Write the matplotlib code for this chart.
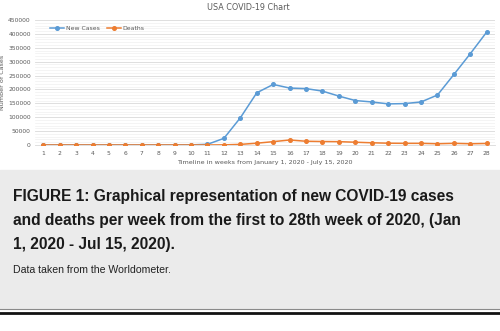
import numpy as np
import matplotlib
matplotlib.use("Agg")
import matplotlib.pyplot as plt
from matplotlib.ticker import MultipleLocator

weeks = list(range(1, 29))
new_cases = [0, 0, 0, 0, 0, 0, 0, 0, 0, 500, 2500, 24000, 98000, 188000,
             218000, 205000, 203000, 194000, 176000, 160000, 155000, 148000,
             149000, 155000, 180000, 254000, 329000, 407000]
deaths = [0, 0, 0, 0, 0, 0, 0, 0, 0, 0, 50, 500, 2200, 6500, 12000, 18000,
          13500, 12500, 12000, 10000, 8000, 6500, 6000, 6000, 4500, 6000,
          4500, 5500]

chart_title = "USA COVID-19 Chart"
x_label = "Timeline in weeks from January 1, 2020 - July 15, 2020"
y_label = "Number of Cases"
caption = ("FIGURE 1: Graphical representation of new COVID-19 cases\n"
           "and deaths per week from the first to 28th week of 2020, (Jan\n"
           "1, 2020 - Jul 15, 2020).")
note = "Data taken from the Worldometer."

W, H = 500, 331
fig = plt.figure(figsize=(W / 100, H / 100), dpi=100)
fig.patch.set_facecolor("white")

# grey caption panel + rules under it
fig.patches.append(plt.Rectangle((0, (H - 308) / H), 1, (308 - 170) / H,
                                 transform=fig.transFigure, color="#ebebeb", zorder=0))
fig.add_artist(plt.Line2D([0, 1], [(H - 309) / H] * 2, color="#8a8a8a", lw=0.8))
fig.add_artist(plt.Line2D([0, 1], [(H - 313) / H] * 2, color="#111111", lw=2.0))

ax = fig.add_axes([35 / W, (H - 145) / H, 460 / W, 125 / H])
ax.set_facecolor("white")

blue = "#5b9bd5"
orange = "#ed7d31"
ax.plot(weeks, new_cases, color=blue, lw=1.1, marker="o", ms=2.6, label="New Cases", zorder=3)
ax.plot(weeks, deaths, color=orange, lw=1.1, marker="o", ms=2.6, label="Deaths", zorder=3)

ax.set_xlim(0.5, 28.5)
ax.set_ylim(0, 450000)
ax.set_xticks(weeks)
ax.yaxis.set_major_locator(MultipleLocator(50000))
ax.yaxis.set_minor_locator(MultipleLocator(10000))
ax.grid(which="major", axis="y", color="#d9d9d9", lw=0.6)
ax.grid(which="minor", axis="y", color="#f0f0f0", lw=0.5)
ax.set_axisbelow(True)
for s in ["top", "right", "left"]:
    ax.spines[s].set_visible(False)
ax.spines["bottom"].set_color("#d9d9d9")
ax.spines["bottom"].set_linewidth(0.6)
ax.tick_params(which="both", length=0, labelsize=4.3, labelcolor="#595959")
ax.tick_params(axis="y", pad=3)
ax.tick_params(axis="x", pad=4)

fig.text(0.497, 1 - 7 / H, chart_title, fontsize=5.8, color="#595959",
         ha="center", va="center")
ax.set_xlabel(x_label, fontsize=4.6, color="#595959", labelpad=3)
ax.set_ylabel(y_label, fontsize=4.6, color="#595959", labelpad=2)

ax.legend(loc="upper left", bbox_to_anchor=(0.02, 1.0), ncol=2, frameon=False,
          fontsize=4.4, labelcolor="#595959", handlelength=2.3, columnspacing=1.2,
          handletextpad=0.3)

fig.text(13 / W, 1 - 189 / H, caption, fontsize=11.2, fontweight="bold",
         family="Liberation Sans", color="#1a1a1a", va="top", ha="left",
         linespacing=1.75)
fig.text(13 / W, 1 - 270 / H, note, fontsize=7.6, family="Liberation Sans",
         color="#222222", va="center", ha="left")

fig.savefig("out.png", dpi=100)
